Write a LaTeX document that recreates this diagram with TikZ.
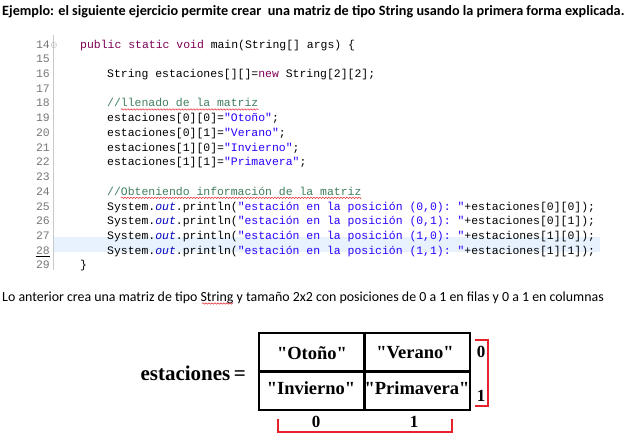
\documentclass[tikz,border=0pt]{standalone}
\usepackage{fontspec}
\setmainfont{Carlito}
\setmonofont{Liberation Mono}
\newfontfamily\serifb{Liberation Serif}
\usetikzlibrary{decorations.pathmorphing}
\definecolor{kwc}{HTML}{7F0055}
\definecolor{stc}{HTML}{2A00FF}
\definecolor{cmc}{HTML}{3F7F5F}
\definecolor{flc}{HTML}{0000C0}
\definecolor{lnc}{HTML}{787878}
\definecolor{hlc}{HTML}{E8F2FE}
\definecolor{redb}{HTML}{E8202A}
\newcommand{\kw}[1]{\textcolor{kwc}{#1}}
\newcommand{\jstr}[1]{\textcolor{stc}{#1}}
\newcommand{\cmt}[1]{\textcolor{cmc}{#1}}
\newcommand{\fld}[1]{\textcolor{flc}{\itshape #1}}
\begin{document}
\begin{tikzpicture}[x=1pt,y=-1pt,
  code/.style={anchor=base west,inner sep=0,font=\fontsize{11.45}{14}\ttfamily},
  lnum/.style={anchor=base east,inner sep=0,text=lnc,font=\fontsize{11.45}{14}\ttfamily},
  cell/.style={font=\serifb\bfseries\fontsize{18.5}{20}\selectfont,inner sep=0},
  idx/.style={font=\serifb\bfseries\fontsize{17}{18}\selectfont,inner sep=0},
  wavy/.style={draw=redb,line width=0.5pt,decorate,decoration={snake,amplitude=0.7pt,segment length=3pt}},
  redbr/.style={draw=redb,line width=2pt}]
\useasboundingbox (0,0) rectangle (640,445);
\fill[white] (0,0) rectangle (640,445);
\node[anchor=base west,inner sep=0,font=\bfseries\fontsize{14.2}{16}\selectfont] (title) at (2,15)
 {Ejemplo: el siguiente ejercicio permite crear\ \ una matriz de tipo String usando la primera forma explicada.};
% editor
\fill[hlc] (53,237) rectangle (600,251.5);
\draw[lnc!40,line width=0.6pt] (53,35) -- (53,270);
\foreach \n [count=\i from 0] in {14,...,29}
  \node[lnum] (n\n) at (50,{48+14.73*\i}) {\n};
\node[lnum,anchor=base west] (fold) at (50.5,48) {\fontsize{8}{8}\selectfont\raisebox{1pt}{$\ominus$}};
\draw[black,line width=0.8pt] (n28.south west) ++(0,1.5) -- ++(14,0);
\def\L#1{48+14.73*#1}
\node[code] (c14) at (80,{\L0}) {\kw{public} \kw{static} \kw{void} main(String[] args) \{};
\node[code] (c16) at (107,{\L2}) {String estaciones[][]=\kw{new} String[2][2];};
\node[code] (c18) at (107,{\L4}) {\cmt{//llenado de la matriz}};
\node[code] (c19) at (107,{\L5}) {estaciones[0][0]=\jstr{"Otoño"};};
\node[code] (c20) at (107,{\L6}) {estaciones[0][1]=\jstr{"Verano"};};
\node[code] (c21) at (107,{\L7}) {estaciones[1][0]=\jstr{"Invierno"};};
\node[code] (c22) at (107,{\L8}) {estaciones[1][1]=\jstr{"Primavera"};};
\node[code] (c24) at (107,{\L{10}}) {\cmt{//Obteniendo información de la matriz}};
\node[code] (c25) at (107,{\L{11}}) {System.\fld{out}.println(\jstr{"estación en la posición (0,0): "}+estaciones[0][0]);};
\node[code] (c26) at (107,{\L{12}}) {System.\fld{out}.println(\jstr{"estación en la posición (0,1): "}+estaciones[0][1]);};
\node[code] (c27) at (107,{\L{13}}) {System.\fld{out}.println(\jstr{"estación en la posición (1,0): "}+estaciones[1][0]);};
\node[code] (c28) at (107,{\L{14}}) {System.\fld{out}.println(\jstr{"estación en la posición (1,1): "}+estaciones[1][1]);};
\node[code] (c29) at (80,{\L{15}}) {\}};
\draw[wavy] (121,{\L4+2.5}) -- (c18.base east |- 0,{\L4+2.5});
\draw[wavy] (121,{\L{10}+2.5}) -- (c24.base east |- 0,{\L{10}+2.5});
% paragraph
\node[anchor=base west,inner sep=0,font=\fontsize{13.9}{16}\selectfont] (para) at (2,301)
 {Lo anterior crea una matriz de tipo String y tamaño 2x2 con posiciones de 0 a 1 en filas y 0 a 1 en columnas};
\draw[wavy] (202,303.5) -- (233,303.5);
% matrix
\draw[line width=2.2pt] (259,333) rectangle (470,410);
\draw[line width=2.2pt] (364.5,333) -- (364.5,410);
\draw[line width=2.2pt] (259,371.5) -- (470,371.5);
\node[cell] (m00) at (312,353) {"Otoño"};
\node[cell] (m01) at (415,353) {"Verano"};
\node[cell] (m10) at (311,388) {"Invierno"};
\node[cell] (m11) at (417,388) {"Primavera"};
\node[cell,anchor=east,font=\serifb\bfseries\fontsize{21}{22}\selectfont] (lbl) at (246,373) {estaciones\,=};
\draw[redbr] (475,340) -- (488,340) -- (488,406) -- (475,406);
\node[idx] (r0) at (481,352) {0};
\node[idx] (r1) at (481,396) {1};
\draw[redbr] (278,419) -- (278,432) -- (452,432) -- (452,419);
\node[idx] (k0) at (316,422) {0};
\node[idx] (k1) at (414,422) {1};
\end{tikzpicture}
\end{document}
